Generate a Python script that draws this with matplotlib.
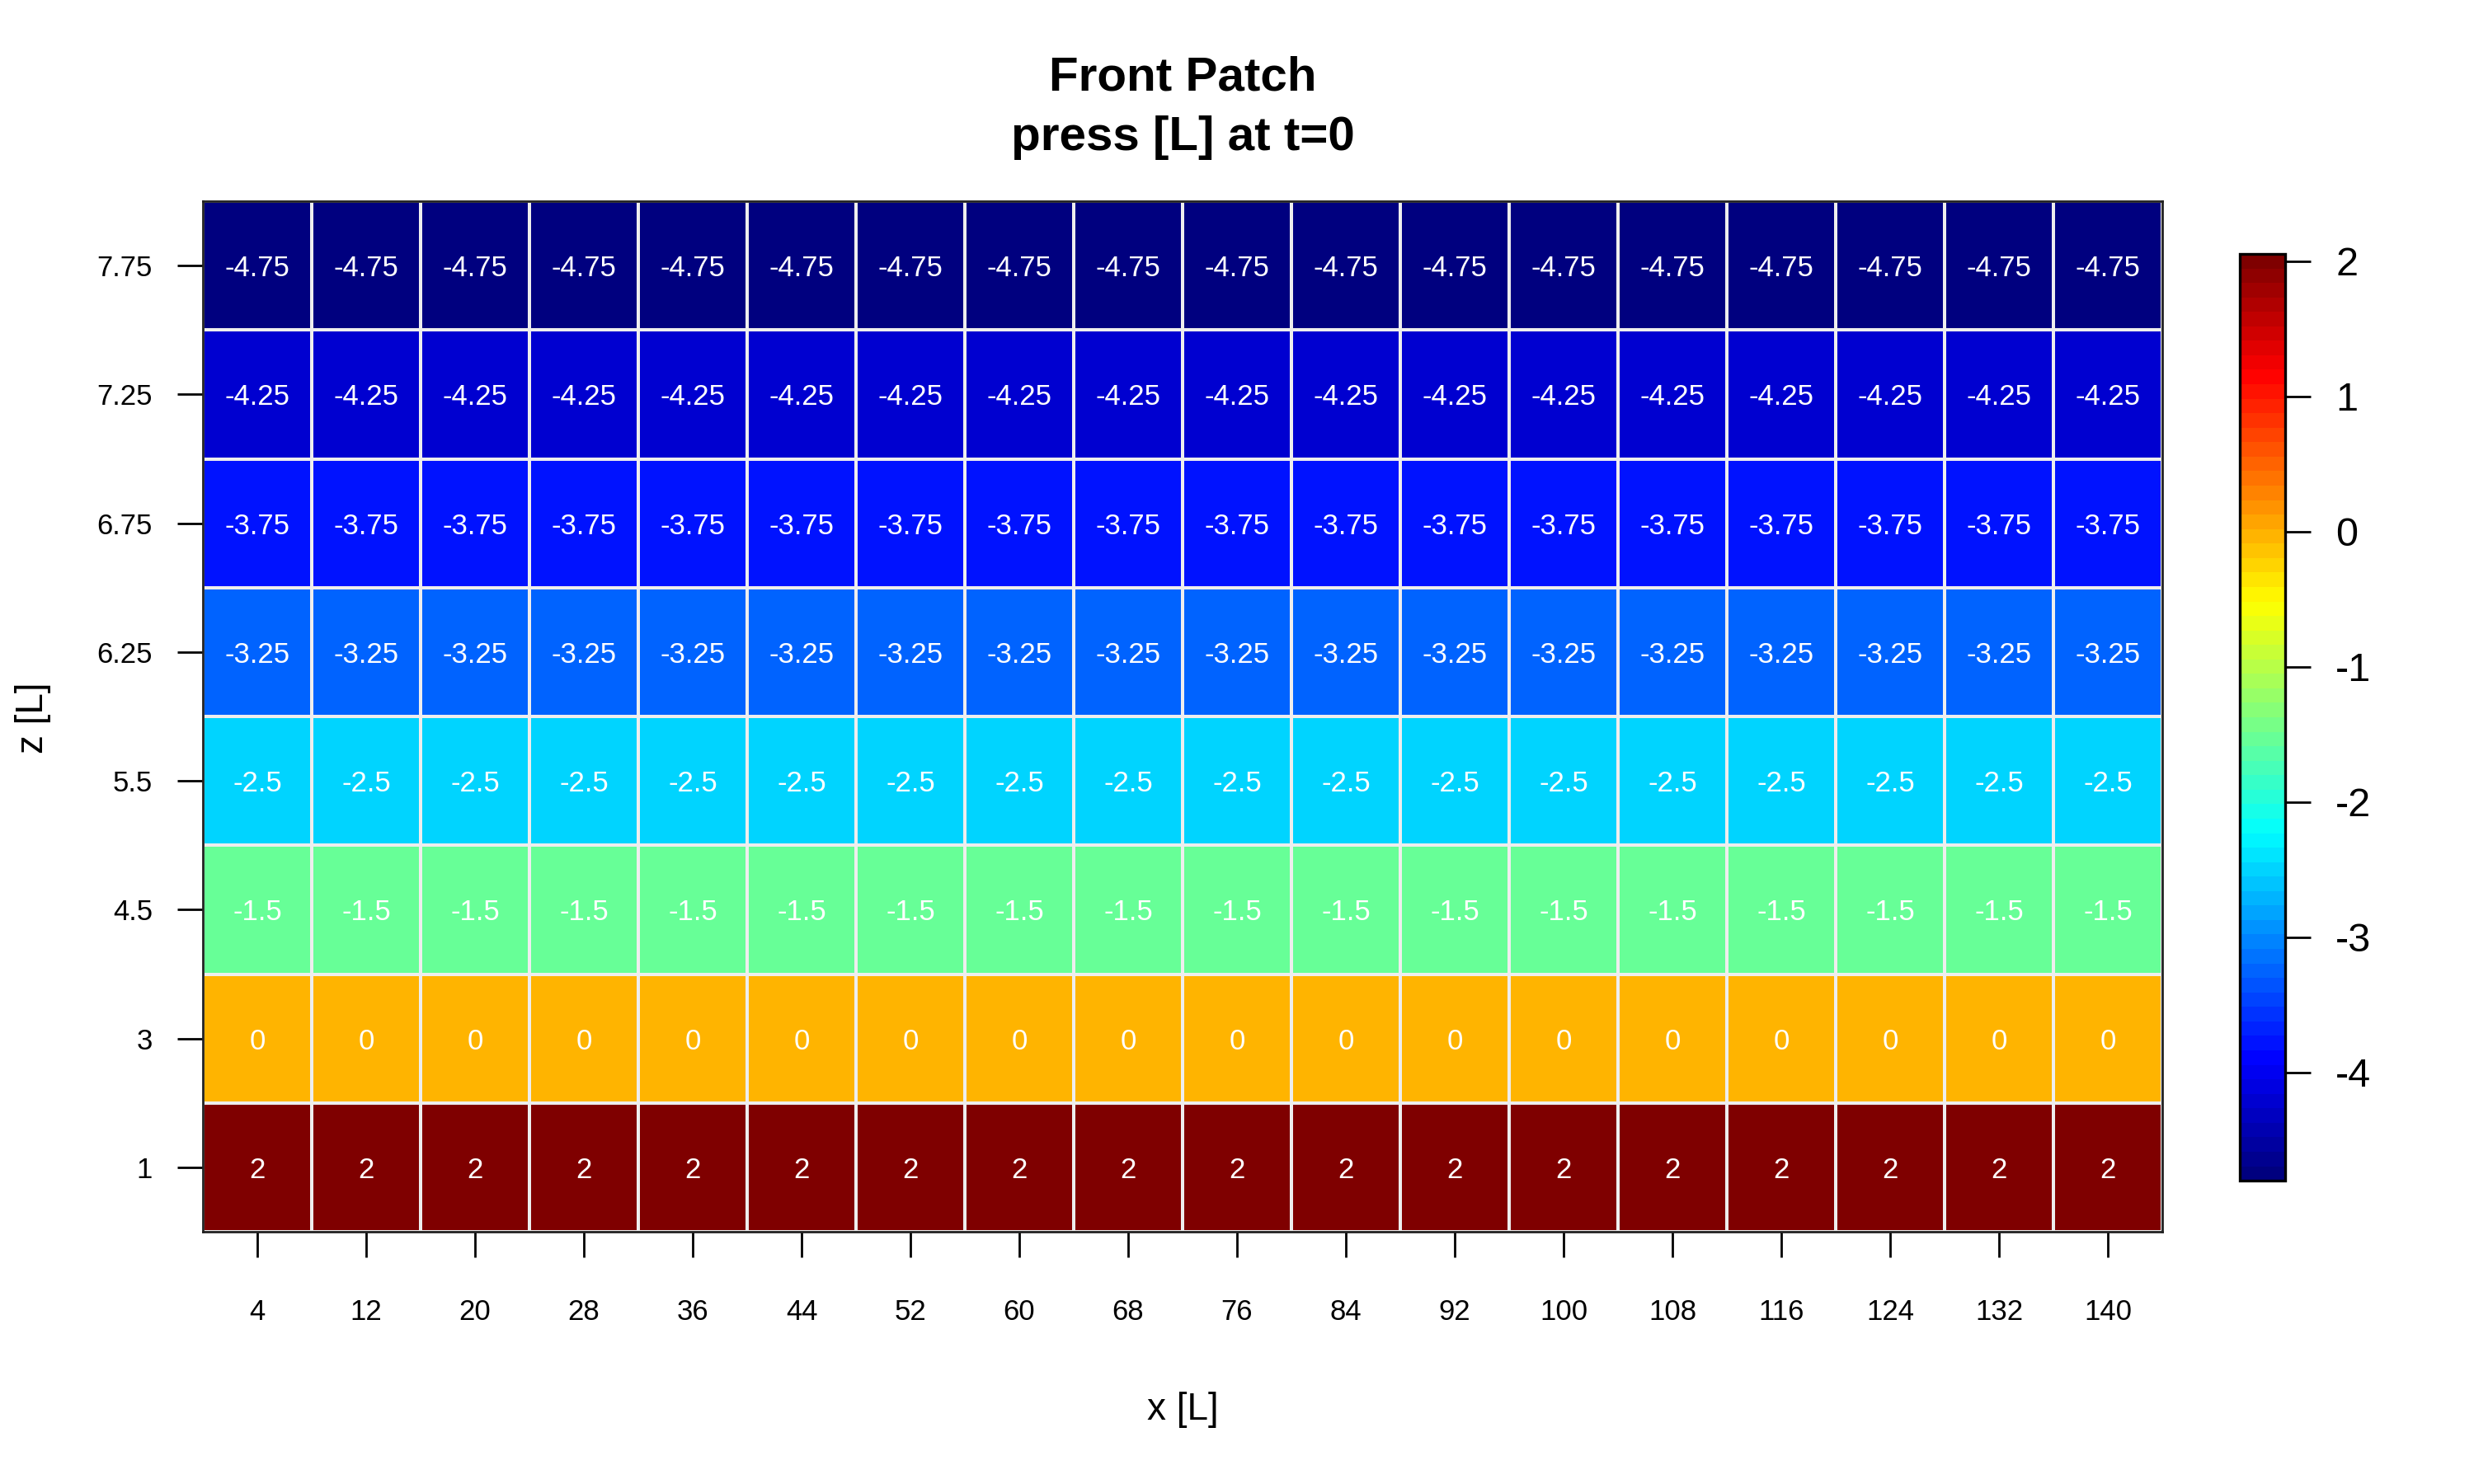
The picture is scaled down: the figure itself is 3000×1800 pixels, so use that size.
import numpy as np
import matplotlib
matplotlib.use('Agg')
import matplotlib.pyplot as plt
from matplotlib.colors import Normalize, LinearSegmentedColormap

plt.rcParams['font.family'] = ['Liberation Sans', 'DejaVu Sans']

# dati del patch frontale
x_centers = [4, 12, 20, 28, 36, 44, 52, 60, 68, 76, 84, 92, 100, 108, 116, 124, 132, 140]
z_labels = ['1', '3', '4.5', '5.5', '6.25', '6.75', '7.25', '7.75']
press_rows = [2, 0, -1.5, -2.5, -3.25, -3.75, -4.25, -4.75]
cbar_ticks = [-4, -3, -2, -1, 0, 1, 2]

press = np.repeat(np.array(press_rows, dtype=float)[:, None], len(x_centers), axis=1)

xc = np.array(x_centers, dtype=float)
mid = (xc[:-1] + xc[1:]) / 2
x_edges = np.concatenate([[xc[0] - (mid[0] - xc[0])], mid, [xc[-1] + (xc[-1] - mid[-1])]])
y_edges = np.arange(len(z_labels) + 1) - 0.5

# palette jet in stile R
jet_cols = ["#00007F", "#0000FF", "#007FFF", "#00FFFF", "#7FFF7F",
            "#FFFF00", "#FF7F00", "#FF0000", "#7F0000"]
cmap = LinearSegmentedColormap.from_list('jet_r_style', jet_cols, N=64)
norm = Normalize(vmin=-4.80, vmax=2.055)

fig = plt.figure(figsize=(15, 9), dpi=200)
ax = fig.add_axes([0.082, 0.17, 0.792, 0.6944])
cax = fig.add_axes([0.9053, 0.2044, 0.0184, 0.6245])

mesh = ax.pcolormesh(x_edges, y_edges, press, cmap=cmap, norm=norm,
                     edgecolors='#EEEEEE', linewidth=0.8)

for i in range(press.shape[0]):
    for j in range(press.shape[1]):
        ax.text(xc[j], i, f"{press[i, j]:g}", ha='center', va='center_baseline',
                color='white', fontsize=12.5)

ax.set_xlim(x_edges[0], x_edges[-1])
ax.set_ylim(y_edges[0], y_edges[-1])
ax.set_xticks(xc)
ax.set_xticklabels([str(v) for v in x_centers])
ax.set_yticks(np.arange(len(z_labels)))
ax.set_yticklabels(z_labels)
ax.tick_params(axis='x', length=11, width=1.0, pad=18, labelsize=12.5)
ax.tick_params(axis='y', length=11, width=1.0, pad=11, labelsize=12.5)
for s in ax.spines.values():
    s.set_linewidth(1.0)
    s.set_color('#222222')

cb = fig.colorbar(mesh, cax=cax, ticks=cbar_ticks)
cb.ax.tick_params(length=11, width=1.0, pad=11, labelsize=17.5)
cb.outline.set_linewidth(1.2)
cb.ax.set_yticklabels([str(t) for t in cbar_ticks])

# titolo su due righe
fig.text(0.478, 0.9394, 'Front Patch', ha='center', va='baseline',
         fontsize=21, fontweight='bold')
fig.text(0.478, 0.8989, 'press [L] at t=0', ha='center', va='baseline',
         fontsize=21, fontweight='bold')
fig.text(0.478, 0.0433, 'x [L]', ha='center', va='baseline', fontsize=16.5)
fig.text(0.0133, 0.516, 'z [L]', ha='center', va='center', rotation=90, fontsize=16.5)

fig.savefig('out.png', dpi=200)
